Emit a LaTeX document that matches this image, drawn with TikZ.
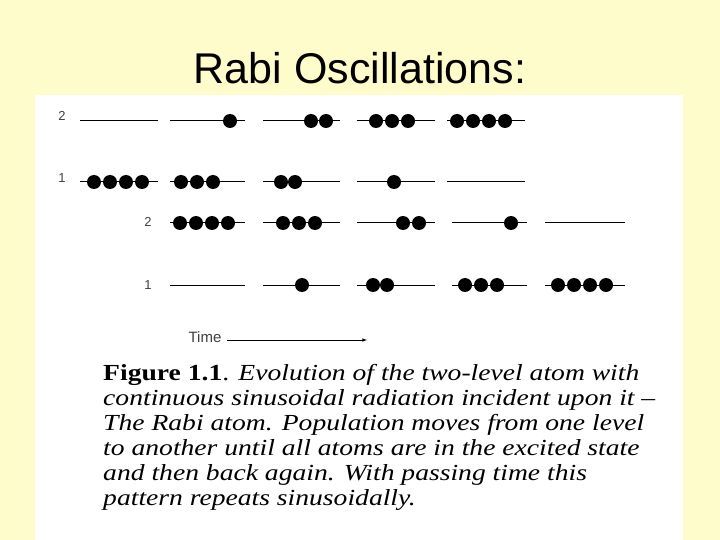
\documentclass[tikz,border=0pt]{standalone}
\usepackage{fontspec}
\setmainfont{Liberation Serif}
\newfontfamily\titlefont{Liberation Sans}
\begin{document}
\begin{tikzpicture}[x=1pt,y=-1pt,
  lvl/.style={line width=1pt},
  atom/.style={circle,fill=black,inner sep=0pt,minimum size=14pt},
  lab/.style={font=\titlefont\fontsize{13}{13}\selectfont,text=black!75},
  captext/.style={anchor=base west,inner sep=0pt,xscale=1.2,font=\fontsize{23}{23}\selectfont}]
\useasboundingbox (0,0) rectangle (720,540);
\fill[yellow!20] (0,0) rectangle (720,540);
\fill[white] (35,95) rectangle (683,540);
\node[font=\titlefont\fontsize{43}{43}\selectfont] (title) at (360,68) {Rabi Oscillations:};
% labels
\node[lab] (l2a) at (62,116) {2};
\node[lab] (l1a) at (62,178) {1};
\node[lab] (l2b) at (148,222) {2};
\node[lab] (l1b) at (148,285) {1};
% level lines
\foreach \y/\xs in {121/{80/158,170/245,263/340,357/435,447/525},
                    182/{80/158,170/245,263/340,357/435,447/525},
                    223/{170/245,263/340,357/435,452/527,545/625},
                    285/{170/245,263/340,357/435,452/527,545/625}}{
  \foreach \a/\b in \xs { \draw[lvl] (\a,\y) -- (\b,\y); }
}
% atoms
\foreach \x in {230,311,326,376,392,408,457,473,489,505} \node[atom] at (\x,121) {};
\foreach \x in {94,110,126,142,181,197,213,281,295,394} \node[atom] at (\x,182) {};
\foreach \x in {180,196,212,228,283,299,315,403,419,511} \node[atom] at (\x,223) {};
\foreach \x in {302,373,387,465,481,497,558,574,590,606} \node[atom] at (\x,285) {};
% time
\node[lab,font=\titlefont\fontsize{15}{15}\selectfont] (time) at (205,337) {Time};
\coordinate (tend) at (367,340);
\draw[-latex,line width=0.6pt] (227,340) -- (tend);
% caption
\node[captext] (c1) at (103,380) {\textbf{Figure 1.1}. \textit{Evolution of the two-level atom with}};
\node[captext] (c2) at (103,405) {\textit{continuous sinusoidal radiation incident upon it --}};
\node[captext] (c3) at (103,430) {\textit{The Rabi atom. Population moves from one level}};
\node[captext] (c4) at (103,455) {\textit{to another until all atoms are in the excited state}};
\node[captext] (c5) at (103,480) {\textit{and then back again. With passing time this}};
\node[captext] (c6) at (103,505) {\textit{pattern repeats sinusoidally.}};
\end{tikzpicture}
\end{document}
